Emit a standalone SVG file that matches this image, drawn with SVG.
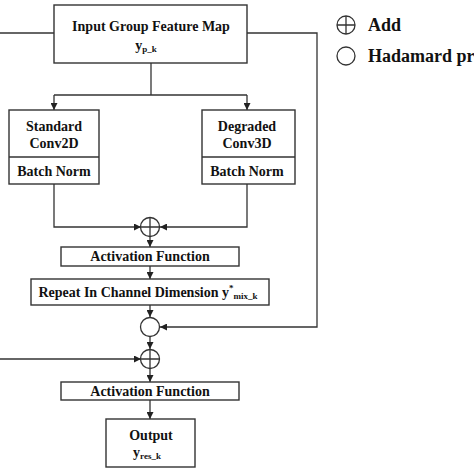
<svg xmlns="http://www.w3.org/2000/svg" width="474" height="474" viewBox="0 0 474 474">
<defs>
<marker id="ah" viewBox="0 0 10 10" refX="10" refY="5" markerWidth="7" markerHeight="7" markerUnits="userSpaceOnUse" orient="auto">
<path d="M0,0 L10,5 L0,10 z" fill="#222"/>
</marker>
</defs>
<style>
.box{fill:#fff;stroke:#333;stroke-width:1.4}
.ln{fill:none;stroke:#333;stroke-width:1.3}
.t{font-family:"Liberation Serif","Times New Roman",serif;font-weight:bold;font-size:14px;fill:#111;text-anchor:middle}
.s{font-size:9px}
.lg{font-family:"Liberation Serif","Times New Roman",serif;font-weight:bold;font-size:18px;fill:#111}
.op{fill:#fff;stroke:#333;stroke-width:1.3}
</style>
<rect width="474" height="474" fill="#fff"/>
<g id="connectors">
<path class="ln" d="M0,33 H54"/>
<path class="ln" d="M247,33 H317 V327 H160" marker-end="url(#ah)"/>
<path class="ln" d="M151,63 V95"/>
<path class="ln" d="M54,95 H247"/>
<path class="ln" d="M54,95 V110" marker-end="url(#ah)"/>
<path class="ln" d="M247,95 V110" marker-end="url(#ah)"/>
<path class="ln" d="M54,184 V227 H141" marker-end="url(#ah)"/>
<path class="ln" d="M247,184 V227 H160" marker-end="url(#ah)"/>
<path class="ln" d="M150,237 V247" marker-end="url(#ah)"/>
<path class="ln" d="M150,266 V279" marker-end="url(#ah)"/>
<path class="ln" d="M150,305 V317" marker-end="url(#ah)"/>
<path class="ln" d="M150,337 V349" marker-end="url(#ah)"/>
<path class="ln" d="M0,359 H141" marker-end="url(#ah)"/>
<path class="ln" d="M150,368 V382" marker-end="url(#ah)"/>
<path class="ln" d="M150,400 V419" marker-end="url(#ah)"/>
</g>
<g id="input">
<rect class="box" x="54" y="5" width="193" height="58"/>
<text class="t" x="151" y="31">Input Group Feature Map</text>
<text class="t" x="146" y="50">y<tspan class="s" dy="2">p_k</tspan></text>
</g>
<g id="conv2d">
<rect class="box" x="9" y="110" width="90" height="74"/>
<path class="ln" d="M9,157 H99"/>
<text class="t" x="54" y="131">Standard</text>
<text class="t" x="54" y="148">Conv2D</text>
<text class="t" x="54" y="176">Batch Norm</text>
</g>
<g id="conv3d">
<rect class="box" x="202" y="110" width="93" height="74"/>
<path class="ln" d="M202,157 H295"/>
<text class="t" x="247" y="131">Degraded</text>
<text class="t" x="247" y="148">Conv3D</text>
<text class="t" x="247" y="176">Batch Norm</text>
</g>
<g id="add1">
<circle class="op" cx="150" cy="227" r="9.5"/>
<path class="ln" d="M140.5,227 H159.5 M150,217.5 V236.5"/>
</g>
<g id="act1">
<rect class="box" x="61" y="247" width="178" height="19"/>
<text class="t" x="150" y="261">Activation Function</text>
</g>
<g id="repeat">
<rect class="box" x="31" y="279" width="238" height="26"/>
<text class="t" x="148" y="297">Repeat In Channel Dimension y<tspan class="s" dy="-6">*</tspan><tspan class="s" dy="8">mix_k</tspan></text>
</g>
<g id="hadamard">
<circle class="op" cx="150" cy="327" r="9.5"/>
</g>
<g id="add2">
<circle class="op" cx="150" cy="359" r="9.5"/>
<path class="ln" d="M140.5,359 H159.5 M150,349.5 V368.5"/>
</g>
<g id="act2">
<rect class="box" x="61" y="382" width="178" height="18"/>
<text class="t" x="150" y="396">Activation Function</text>
</g>
<g id="output">
<rect class="box" x="106" y="419" width="89" height="48"/>
<text class="t" x="151" y="440">Output</text>
<text class="t" x="147" y="457">y<tspan class="s" dy="2">res_k</tspan></text>
</g>
<g id="legend">
<circle class="op" cx="346" cy="25" r="9"/>
<path class="ln" d="M337,25 H355 M346,16 V34"/>
<text class="lg" x="368" y="31">Add</text>
<circle class="op" cx="346" cy="56" r="9"/>
<text class="lg" x="368" y="62">Hadamard product</text>
</g>
</svg>
